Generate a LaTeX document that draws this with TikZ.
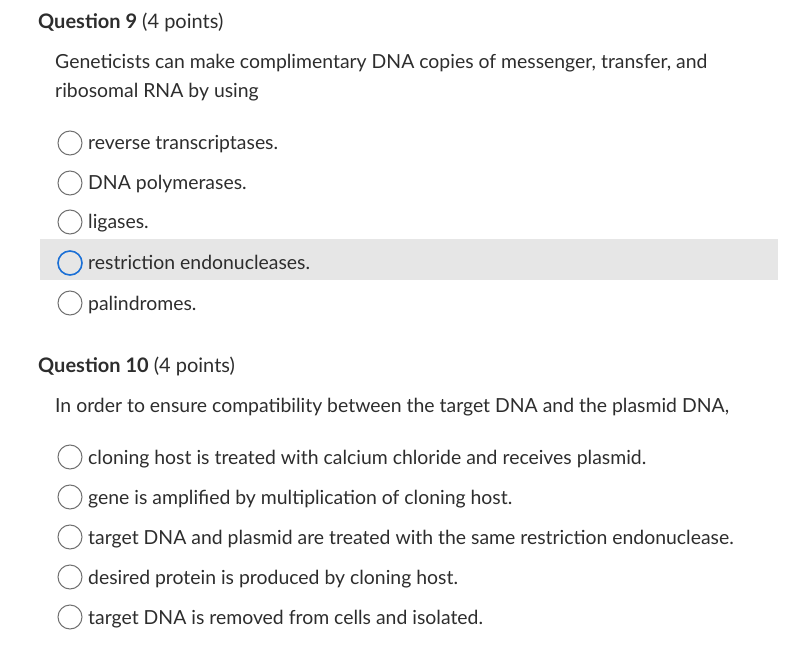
\documentclass[tikz,border=0pt]{standalone}
\usepackage{fontspec}
\setmainfont{Lato}
\definecolor{txt}{HTML}{2D2D2D}
\definecolor{ring}{HTML}{707070}
\definecolor{sel}{HTML}{1A6FD6}
\definecolor{band}{HTML}{E6E6E6}
\begin{document}
\begin{tikzpicture}[x=1pt,y=-1pt,
  q/.style={anchor=base west,inner sep=0pt,font=\fontsize{20}{24}\selectfont,text=txt},
  t/.style={anchor=base west,inner sep=0pt,font=\fontsize{19.4}{24}\selectfont,text=txt},
  radio/.style={circle,draw=ring,line width=1pt,minimum size=24pt,inner sep=0pt},
  radiosel/.style={radio,draw=sel,line width=1.6pt}]
\useasboundingbox (0,0) rectangle (803,660);
\fill[band] (40,239) rectangle (778,280);
\node[q] (q9) at (38,29) {\textbf{Question 9} (4 points)};
\node[t] (s9a) at (55,69) {Geneticists can make complimentary DNA copies of messenger, transfer, and};
\node[t] (s9b) at (55,98) {ribosomal RNA by using};
\foreach \i/\y/\s in {a/143/reverse transcriptases., b/183/DNA polymerases., c/222/ligases., e/303/palindromes.}{
  \node[radio] (r\i) at (70,\y) {};
  \node[t] (o\i) at (88,\y+7) {\s};
}
\node[radiosel] (rd) at (70,263) {};
\node[t] (od) at (88,270) {restriction endonucleases.};
\node[q] (q10) at (38,372) {\textbf{Question 10} (4 points)};
\node[t] (s10) at (55,412) {In order to ensure compatibility between the target DNA and the plasmid DNA,};
\foreach \i/\y/\s in {f/457/cloning host is treated with calcium chloride and receives plasmid., g/497/gene is amplified by multiplication of cloning host., h/537/target DNA and plasmid are treated with the same restriction endonuclease., k/577/desired protein is produced by cloning host., m/617/target DNA is removed from cells and isolated.}{
  \node[radio] (r\i) at (70,\y) {};
  \node[t] (o\i) at (88,\y+7) {\s};
}
\end{tikzpicture}
\end{document}
